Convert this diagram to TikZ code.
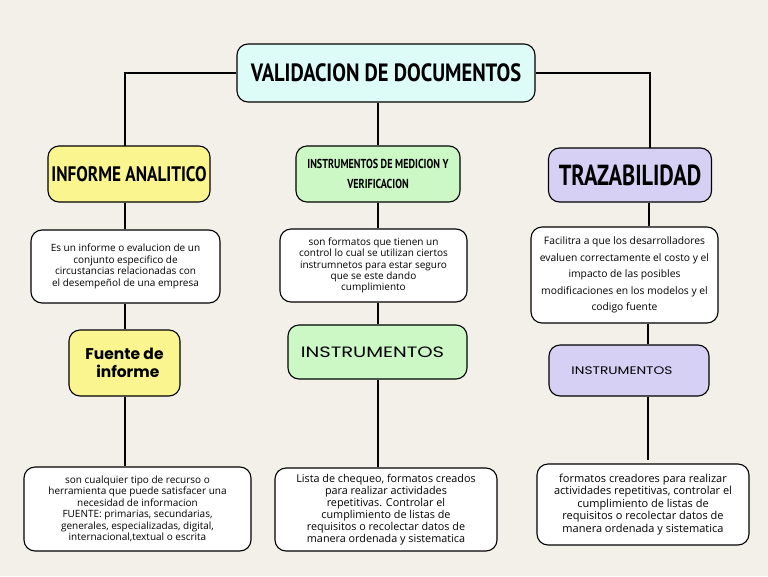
\documentclass[tikz,border=0pt]{standalone}
\usepackage{fontspec}
\setmainfont{Open Sans}
\newfontfamily\headf{PT Sans}
\newfontfamily\monts{Poppins}
\definecolor{bg}{HTML}{F3F0EA}
\definecolor{cyanf}{HTML}{DDFCF8}
\definecolor{yel}{HTML}{FAF58E}
\definecolor{grn}{HTML}{CCF8C6}
\definecolor{lav}{HTML}{D6D0F5}
\begin{document}
\begin{tikzpicture}[x=1pt,y=-1pt,
 bx/.style={draw=black,line width=1.1pt,rounded corners=11pt,align=center,inner sep=1pt},
 ln/.style={line width=1.1pt}]
\fill[bg] (0,0) rectangle (768,576);
\useasboundingbox (0,0) rectangle (768,576);
\node[bx,fill=cyanf,minimum width=298pt,minimum height=58pt,font=\headf\bfseries\fontsize{25}{26}\selectfont] (t) at (386,73) {\scalebox{0.82}[1]{VALIDACION DE DOCUMENTOS}};
\node[bx,fill=yel,minimum width=162pt,minimum height=56pt,font=\headf\bfseries\fontsize{21}{22}\selectfont] (a1) at (129,174) {\scalebox{0.82}[1]{INFORME ANALITICO}};
\node[bx,fill=grn,minimum width=164pt,minimum height=56pt,font=\headf\bfseries\fontsize{13}{22}\selectfont] (b1) at (378,174) {\scalebox{0.78}[1]{INSTRUMENTOS DE MEDICION Y}\\[-2pt]\scalebox{0.78}[1]{VERIFICACION}};
\node[bx,fill=lav,minimum width=163pt,minimum height=54pt,font=\headf\bfseries\fontsize{29}{30}\selectfont] (c1) at (630,175) {\scalebox{0.77}[1]{TRAZABILIDAD}};
\node[bx,fill=white,minimum width=189pt,minimum height=73pt,font=\fontsize{10}{11.5}\selectfont] (a2) at (125.5,266.5) {Es un informe o evalucion de un\\conjunto especifico de\\circustancias relacionadas con\\el desempeñol de una empresa};
\node[bx,fill=white,minimum width=187pt,minimum height=73pt,font=\fontsize{10}{11.2}\selectfont] (b2) at (373.5,265.5) {son formatos que tienen un\\control lo cual se utilizan ciertos\\instrumnetos para estar seguro\\que se este dando\\cumplimiento};
\node[bx,fill=white,minimum width=187pt,minimum height=96pt,font=\fontsize{10.3}{16.5}\selectfont] (c2) at (624.5,275) {Facilitra a que los desarrolladores\\evaluen correctamente el costo y el\\impacto de las posibles\\modificaciones en los modelos y el\\codigo fuente};
\node[bx,fill=yel,minimum width=111pt,minimum height=66pt,font=\monts\bfseries\fontsize{15.5}{18}\selectfont] (a3) at (124.5,363) {Fuente de\\\ \ informe};
\node[bx,fill=grn,minimum width=179pt,minimum height=54pt,font=\monts\fontsize{15}{16}\selectfont] (b3) at (377.5,352) {\scalebox{1.3}[1]{INSTRUMENTOS}\hspace{10pt}};
\node[bx,fill=lav,minimum width=160pt,minimum height=51pt,font=\monts\fontsize{11}{12}\selectfont] (c3) at (629,370.5) {\scalebox{1.25}[1]{INSTRUMENTOS}\hspace{14pt}};
\node[bx,fill=white,minimum width=227pt,minimum height=84pt,font=\fontsize{10}{11.5}\selectfont] (a4) at (137.5,509) {son cualquier tipo de recurso o\\herramienta que puede satisfacer una\\necesidad de informacion\\FUENTE: primarias, secundarias,\\generales, especializadas, digital,\\internacional,textual o escrita};
\node[bx,fill=white,minimum width=222pt,minimum height=83pt,font=\fontsize{10.8}{12}\selectfont] (b4) at (386,509.5) {Lista de chequeo, formatos creados\\para realizar actividades\\repetitivas. Controlar el\\cumplimiento de listas de\\requisitos o recolectar datos de\\manera ordenada y sistematica};
\node[bx,fill=white,minimum width=212pt,minimum height=81pt,font=\fontsize{11}{12.6}\selectfont] (c4) at (643,504.5) {formatos creadores para realizar\\actividades repetitivas, controlar el\\cumplimiento de listas de\\requisitos o recolectar datos de\\manera ordenada y sistematica};
\draw[ln] (t.west) -- (125,73) -- (125,146);
\draw[ln] (t.east) -- (650,73) -- (650,148);
\draw[ln] (t.south -| b1.north) -- (b1.north);
\draw[ln] (a1.south -| 125,0) -- (a2.north -| 125,0);
\draw[ln] (a2.south -| 125,0) -- (a3.north -| 125,0);
\draw[ln] (a3.south -| 125,0) -- (a4.north -| 125,0);
\draw[ln] (b1.south -| 378,0) -- (b2.north -| 378,0);
\draw[ln] (b2.south -| 378,0) -- (b3.north -| 378,0);
\draw[ln] (b3.south -| 378,0) -- (b4.north -| 378,0);
\draw[ln] (c1.south -| 649,0) -- (c2.north -| 649,0);
\draw[ln] (c2.south -| 648,0) -- (c3.north -| 648,0);
\draw[ln] (c3.south -| 648,0) -- (648,460);
\end{tikzpicture}
\end{document}
